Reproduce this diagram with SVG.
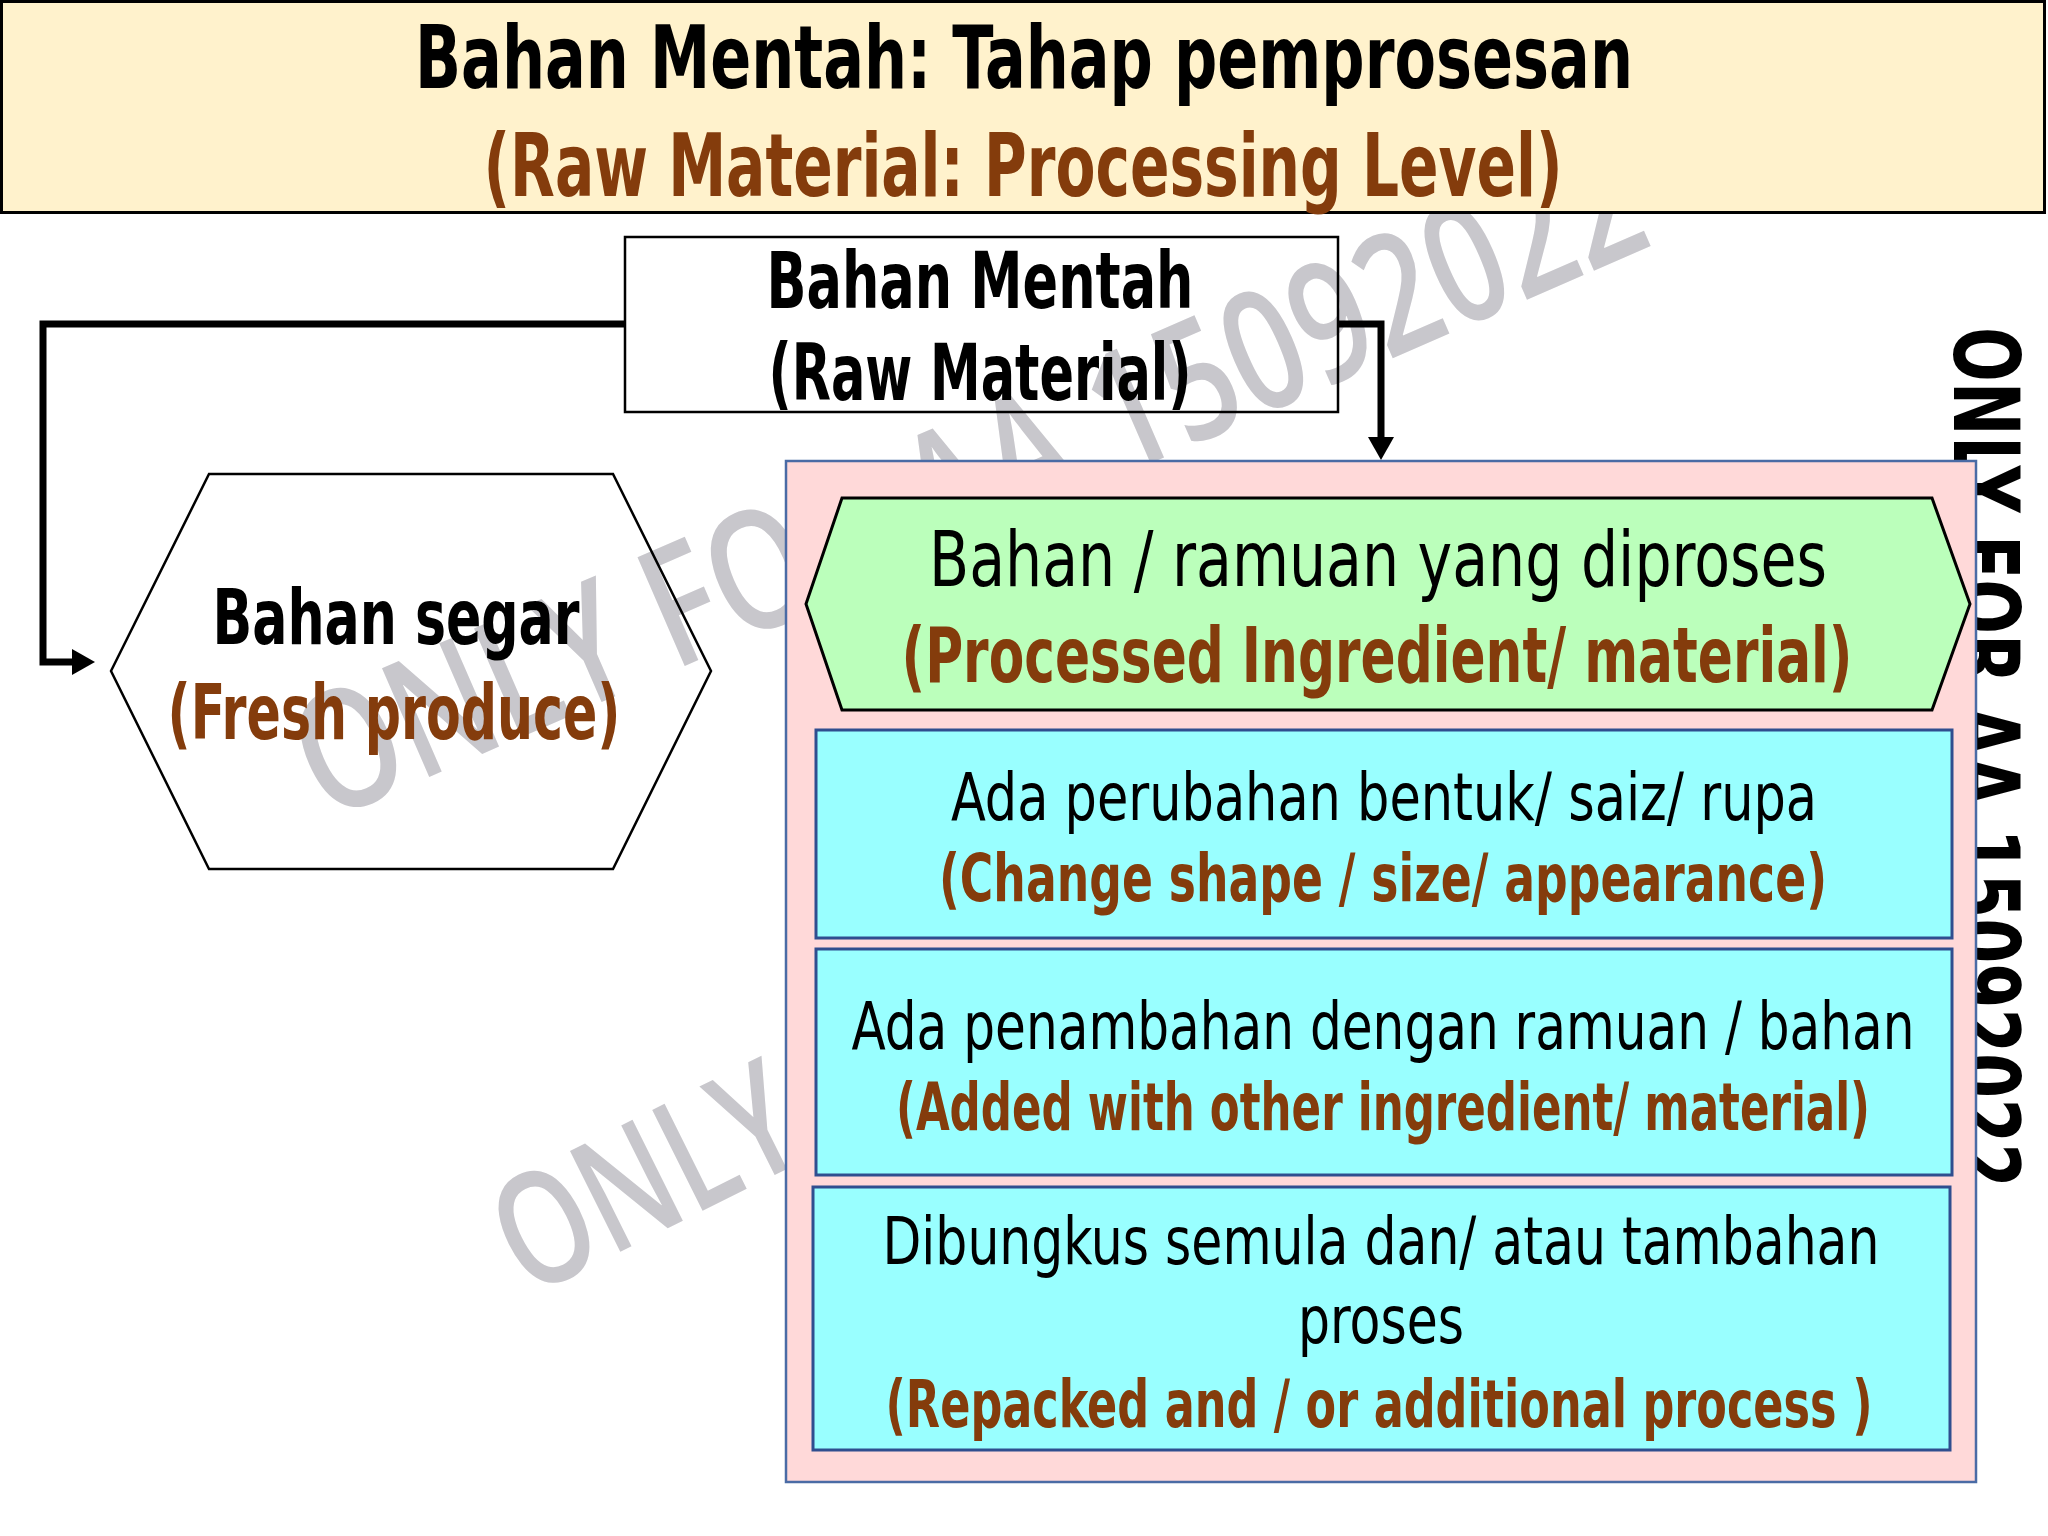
<svg xmlns="http://www.w3.org/2000/svg" width="2048" height="1536" viewBox="0 0 2048 1536">
<style>
.t{font-family:'Liberation Sans Narrow','DejaVu Sans Condensed','Liberation Sans',sans-serif;text-anchor:middle}
.b{font-weight:bold}
.k{fill:#000}
.br{fill:#843C0C}
.wm{font-family:'Open Sans','Liberation Sans',sans-serif;font-weight:600;fill:#C8C7CC}
.conn{fill:none;stroke:#000;stroke-width:7}
.cy{fill:#99FFFF;stroke:#2F4E8F;stroke-width:3}
</style>
<defs>
<marker id="ah" markerUnits="userSpaceOnUse" markerWidth="30" markerHeight="30" viewBox="0 -15 25 30" refX="0" refY="0" orient="auto">
<path d="M0,-13 L23,0 L0,13 z" fill="#000"/>
</marker>
</defs>
<rect x="0" y="0" width="2048" height="1536" fill="#fff"/>
<g id="watermarks">
<text class="wm" x="326" y="822" font-size="166" textLength="1450" lengthAdjust="spacingAndGlyphs" transform="rotate(-23.5 326 822)">ONLY FOR AA 15092022</text>
<text class="wm" x="528" y="1298" font-size="158" textLength="1330" lengthAdjust="spacingAndGlyphs" transform="rotate(-26.5 528 1298)">ONLY FOR AA 15092022</text>
<text class="t b" style="text-anchor:start" font-size="90" x="0" y="0" textLength="861" lengthAdjust="spacingAndGlyphs" transform="translate(1954 327) rotate(90)">ONLY FOR AA 15092022</text>
</g>
<g id="title">
<rect x="1.5" y="1.5" width="2043" height="211" fill="#FFF2CC" stroke="#000" stroke-width="3"/>
<text class="t b k" x="1024" y="88" font-size="88" textLength="1218" lengthAdjust="spacingAndGlyphs">Bahan Mentah: Tahap pemprosesan</text>
<text class="t b br" x="1023" y="196" font-size="88" textLength="1079" lengthAdjust="spacingAndGlyphs">(Raw Material: Processing Level)</text>
</g>
<g id="connectors">
<path class="conn" d="M625,324 H43 V662 H72" marker-end="url(#ah)"/>
<path class="conn" d="M1338,324 H1381 V437" marker-end="url(#ah)"/>
</g>
<g id="raw-material">
<rect x="625" y="237" width="713" height="175" fill="none" stroke="#000" stroke-width="2.5"/>
<text class="t b k" x="980" y="308" font-size="78" textLength="427" lengthAdjust="spacingAndGlyphs">Bahan Mentah</text>
<text class="t b k" x="980" y="400" font-size="78" textLength="423" lengthAdjust="spacingAndGlyphs">(Raw Material)</text>
</g>
<g id="fresh-produce">
<polygon points="111,671 209,474 613,474 711,671 613,869 209,869" fill="none" stroke="#000" stroke-width="2.5"/>
<text class="t b k" x="396" y="644" font-size="76" textLength="367" lengthAdjust="spacingAndGlyphs">Bahan segar</text>
<text class="t b br" x="394" y="739" font-size="76" textLength="453" lengthAdjust="spacingAndGlyphs">(Fresh produce)</text>
</g>
<g id="processed-group">
<rect x="786" y="461" width="1190" height="1021" fill="#FFD9D9" stroke="#4A6BA5" stroke-width="2.5"/>
</g>
<g id="processed">
<polygon points="806,604 842,498 1932,498 1970,604 1932,710 842,710" fill="#BBFFBB" stroke="#000" stroke-width="3"/>
<text class="t k" x="1378" y="586" font-size="76" textLength="898" lengthAdjust="spacingAndGlyphs">Bahan / ramuan yang diproses</text>
<text class="t b br" x="1377" y="682" font-size="76" textLength="951" lengthAdjust="spacingAndGlyphs">(Processed Ingredient/ material)</text>
</g>
<g id="change-shape">
<rect class="cy" x="816" y="730" width="1136" height="208"/>
<text class="t k" x="1384" y="820" font-size="66" textLength="866" lengthAdjust="spacingAndGlyphs">Ada perubahan bentuk/ saiz/ rupa</text>
<text class="t b br" x="1383" y="901" font-size="66" textLength="888" lengthAdjust="spacingAndGlyphs">(Change shape / size/ appearance)</text>
</g>
<g id="added">
<rect class="cy" x="816" y="949" width="1136" height="226"/>
<text class="t k" x="1383" y="1049" font-size="66" textLength="1063" lengthAdjust="spacingAndGlyphs">Ada penambahan dengan ramuan / bahan</text>
<text class="t b br" x="1383" y="1130" font-size="66" textLength="974" lengthAdjust="spacingAndGlyphs">(Added with other ingredient/ material)</text>
</g>
<g id="repacked">
<rect class="cy" x="813" y="1187" width="1137" height="263"/>
<text class="t k" x="1381" y="1264" font-size="66" textLength="997" lengthAdjust="spacingAndGlyphs">Dibungkus semula dan/ atau tambahan</text>
<text class="t k" x="1381" y="1343" font-size="66" textLength="166" lengthAdjust="spacingAndGlyphs">proses</text>
<text class="t b br" x="1379" y="1427" font-size="66" textLength="987" lengthAdjust="spacingAndGlyphs">(Repacked and / or additional process )</text>
</g>
</svg>
